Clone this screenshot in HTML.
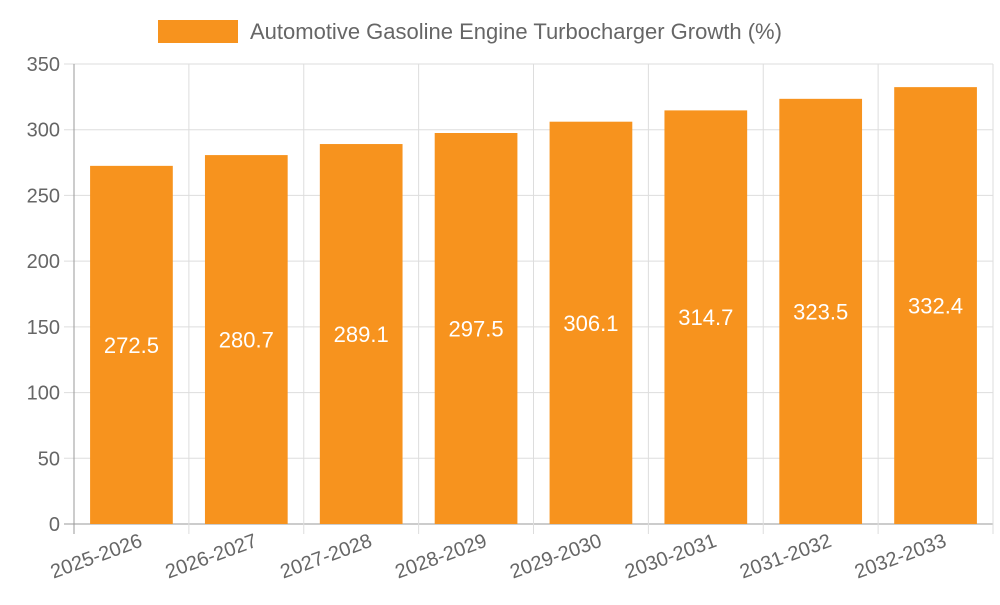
<!DOCTYPE html>
<html><head><meta charset="utf-8"><style>
body{margin:0;background:#fff;font-family:"Liberation Sans",sans-serif}
svg text{font-family:"Liberation Sans",sans-serif}
</style></head><body>
<svg id="chart" width="1000" height="600" xmlns="http://www.w3.org/2000/svg">
<g id="legend">
<rect x="158" y="20" width="80" height="23" fill="#f7931e"/>
<text x="250" y="39" font-size="22" fill="#666">Automotive Gasoline Engine Turbocharger Growth (%)</text>
</g>
<g id="grid"></g><g id="bars"></g><g id="axes"></g>
</svg>
<script>
const categories=["2025-2026","2026-2027","2027-2028","2028-2029","2029-2030","2030-2031","2031-2032","2032-2033"];
const values=[272.5,280.7,289.1,297.5,306.1,314.7,323.5,332.4];
const yTicks=[0,50,100,150,200,250,300,350];
const NS="http://www.w3.org/2000/svg";
const L=74,R=993,T=64,B=524,yMax=350;
const bw=(R-L)/categories.length;
const y=v=>B-(v/yMax)*(B-T);
const x=i=>L+i*bw;
function mk(tag,attrs,parent,text){const e=document.createElementNS(NS,tag);for(const k in attrs)e.setAttribute(k,attrs[k]);if(text!==undefined)e.textContent=text;document.getElementById(parent).appendChild(e);return e;}
yTicks.forEach(t=>{
 const g=mk('line',{x1:L-10,x2:R,y1:y(t),y2:y(t),stroke:t===0?'#999':'#ddd','stroke-width':1},'grid');
 
 
 const lb=mk('text',{x:L-14,y:y(t)+7,'text-anchor':'end','font-size':20,fill:'#666'},'axes',String(t));
 
 
});
for(let i=0;i<=categories.length;i++){
 const g=mk('line',{x1:x(i),x2:x(i),y1:T,y2:B+10,stroke:i===0?'#999':'#ddd','stroke-width':1},'grid');
 
 
}
categories.forEach((c,i)=>{
 const bx=x(i)+bw*0.14, w=bw*0.72, top=y(values[i]);
 const r=mk('rect',{x:bx,y:top,width:w,height:B-top,fill:'#f7931e'},'bars');
 
 
 const v=mk('text',{x:bx+w/2,y:(top+B)/2+8,'text-anchor':'middle','font-size':22,fill:'#fff'},'bars',values[i].toFixed(1));
 
 
 const cx=x(i)+bw/2+12, cy=B+22;
 const t=mk('text',{x:cx,y:cy,'text-anchor':'end','font-size':20,fill:'#666',transform:`rotate(-20 ${cx} ${cy})`},'axes',c);
 
 
});
const ax=mk('line',{x1:L,x2:L,y1:T,y2:B,stroke:'#999'},'axes');


</script>
</body></html>
